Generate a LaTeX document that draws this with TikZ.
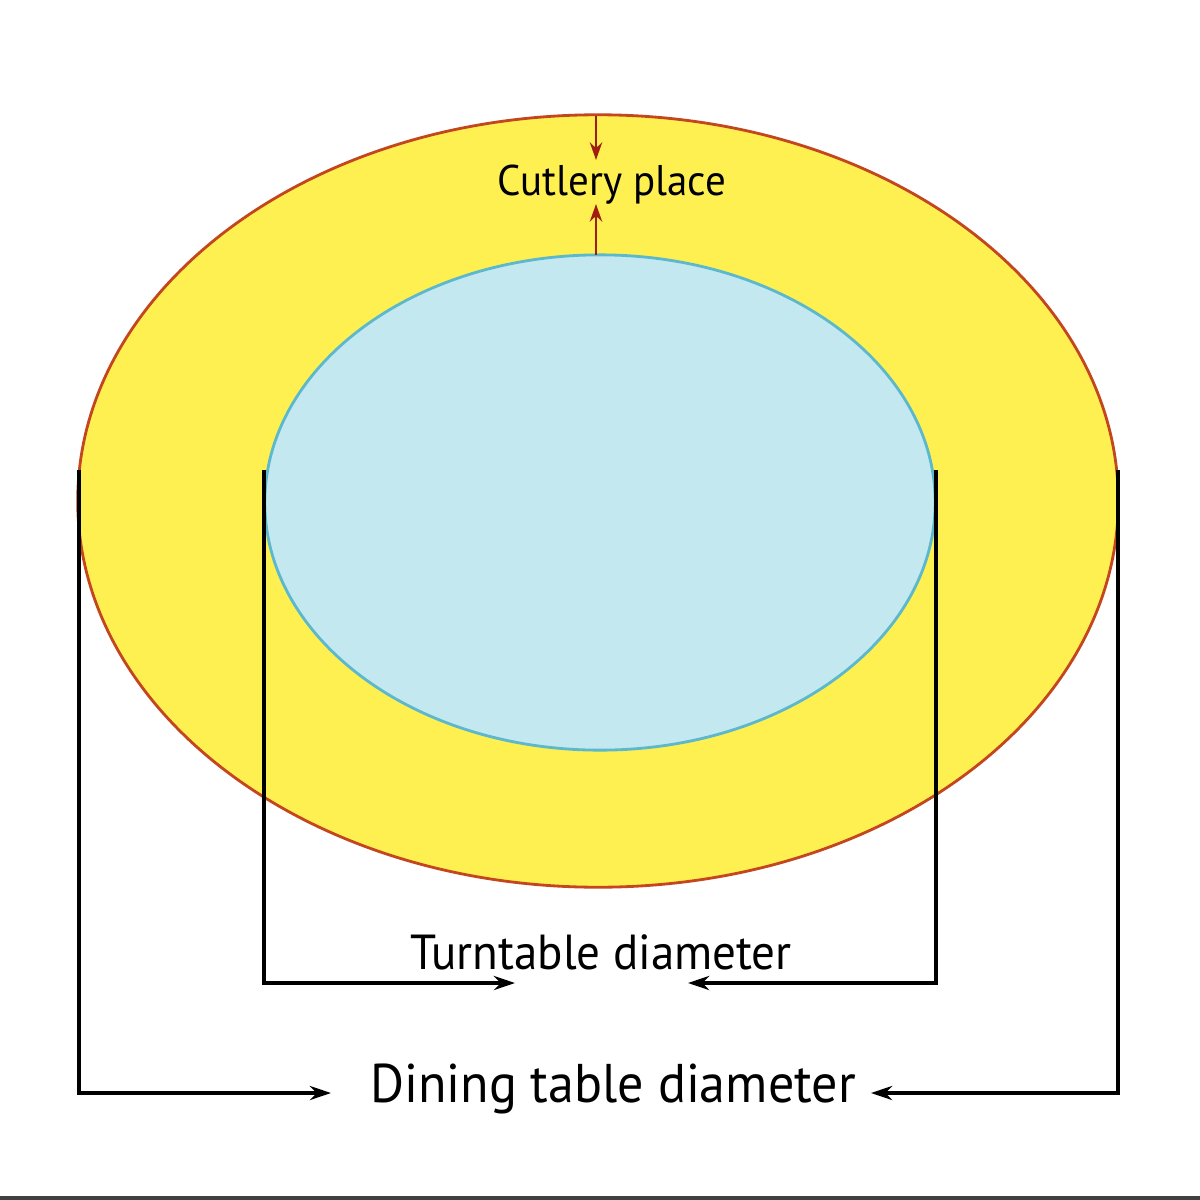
\documentclass[tikz,border=0pt]{standalone}
\usepackage{fontspec}
\setmainfont[FakeStretch=0.955]{PT Sans}
\usetikzlibrary{shapes.geometric,arrows.meta}
\definecolor{tabley}{RGB}{255,240,82}
\definecolor{tabler}{RGB}{196,70,30}
\definecolor{turnb}{RGB}{196,232,240}
\definecolor{turnline}{RGB}{92,184,204}
\definecolor{cutred}{RGB}{160,30,15}
\tikzset{
  px/.style={x=0.01cm,y=-0.01cm},
  dimline/.style={black,line width=1.1pt,-{Stealth[length=6pt,width=4pt]}},
  cutline/.style={cutred,line width=0.7pt,-{Stealth[length=5pt,width=3.5pt]}},
  lbl/.style={inner sep=0pt,text=black},
}
\begin{document}
\begin{tikzpicture}[px]
\useasboundingbox (0,0) rectangle (1200,1200);
\fill[white] (0,0) rectangle (1200,1200);
% outer table
\node[ellipse,draw=tabler,fill=tabley,line width=0.8pt,minimum width=10.40cm,minimum height=7.72cm,inner sep=0pt] (outer) at (598,501) {};
% turntable
\node[ellipse,draw=turnline,fill=turnb,line width=0.8pt,minimum width=6.70cm,minimum height=4.95cm,inner sep=0pt] (inner) at (600,502.5) {};
% cutlery
\node[lbl,font=\fontsize{12.2}{14}\selectfont] (cut) at (612,185) {Cutlery place};
\coordinate (cTop) at (596,116);
\coordinate (cTopEnd) at (596,160);
\coordinate (cBot) at (596,255);
\coordinate (cBotEnd) at (596,204);
\draw[cutline] (cTop) -- (cTopEnd);
\draw[cutline] (cBot) -- (cBotEnd);
% turntable diameter
\node[lbl,font=\fontsize{14}{16}\selectfont] (turn) at (601,952) {Turntable diameter};
\coordinate (tL) at (264,470);
\coordinate (tLb) at (264,983);
\coordinate (tLe) at (515,983);
\coordinate (tR) at (936,470);
\coordinate (tRb) at (936,983);
\coordinate (tRe) at (688,983);
\draw[dimline] (tL) -- (tLb) -- (tLe);
\draw[dimline] (tR) -- (tRb) -- (tRe);
% dining table diameter
\node[lbl,font=\fontsize{15.5}{18}\selectfont] (dine) at (613,1089) {Dining table diameter};
\coordinate (dL) at (79,470);
\coordinate (dLb) at (79,1093);
\coordinate (dLe) at (331,1093);
\coordinate (dR) at (1118,470);
\coordinate (dRb) at (1118,1093);
\coordinate (dRe) at (871,1093);
\draw[dimline] (dL) -- (dLb) -- (dLe);
\draw[dimline] (dR) -- (dRb) -- (dRe);
% bottom border
\fill[black!75] (0,1196) rectangle (1200,1200);
\end{tikzpicture}
\end{document}
